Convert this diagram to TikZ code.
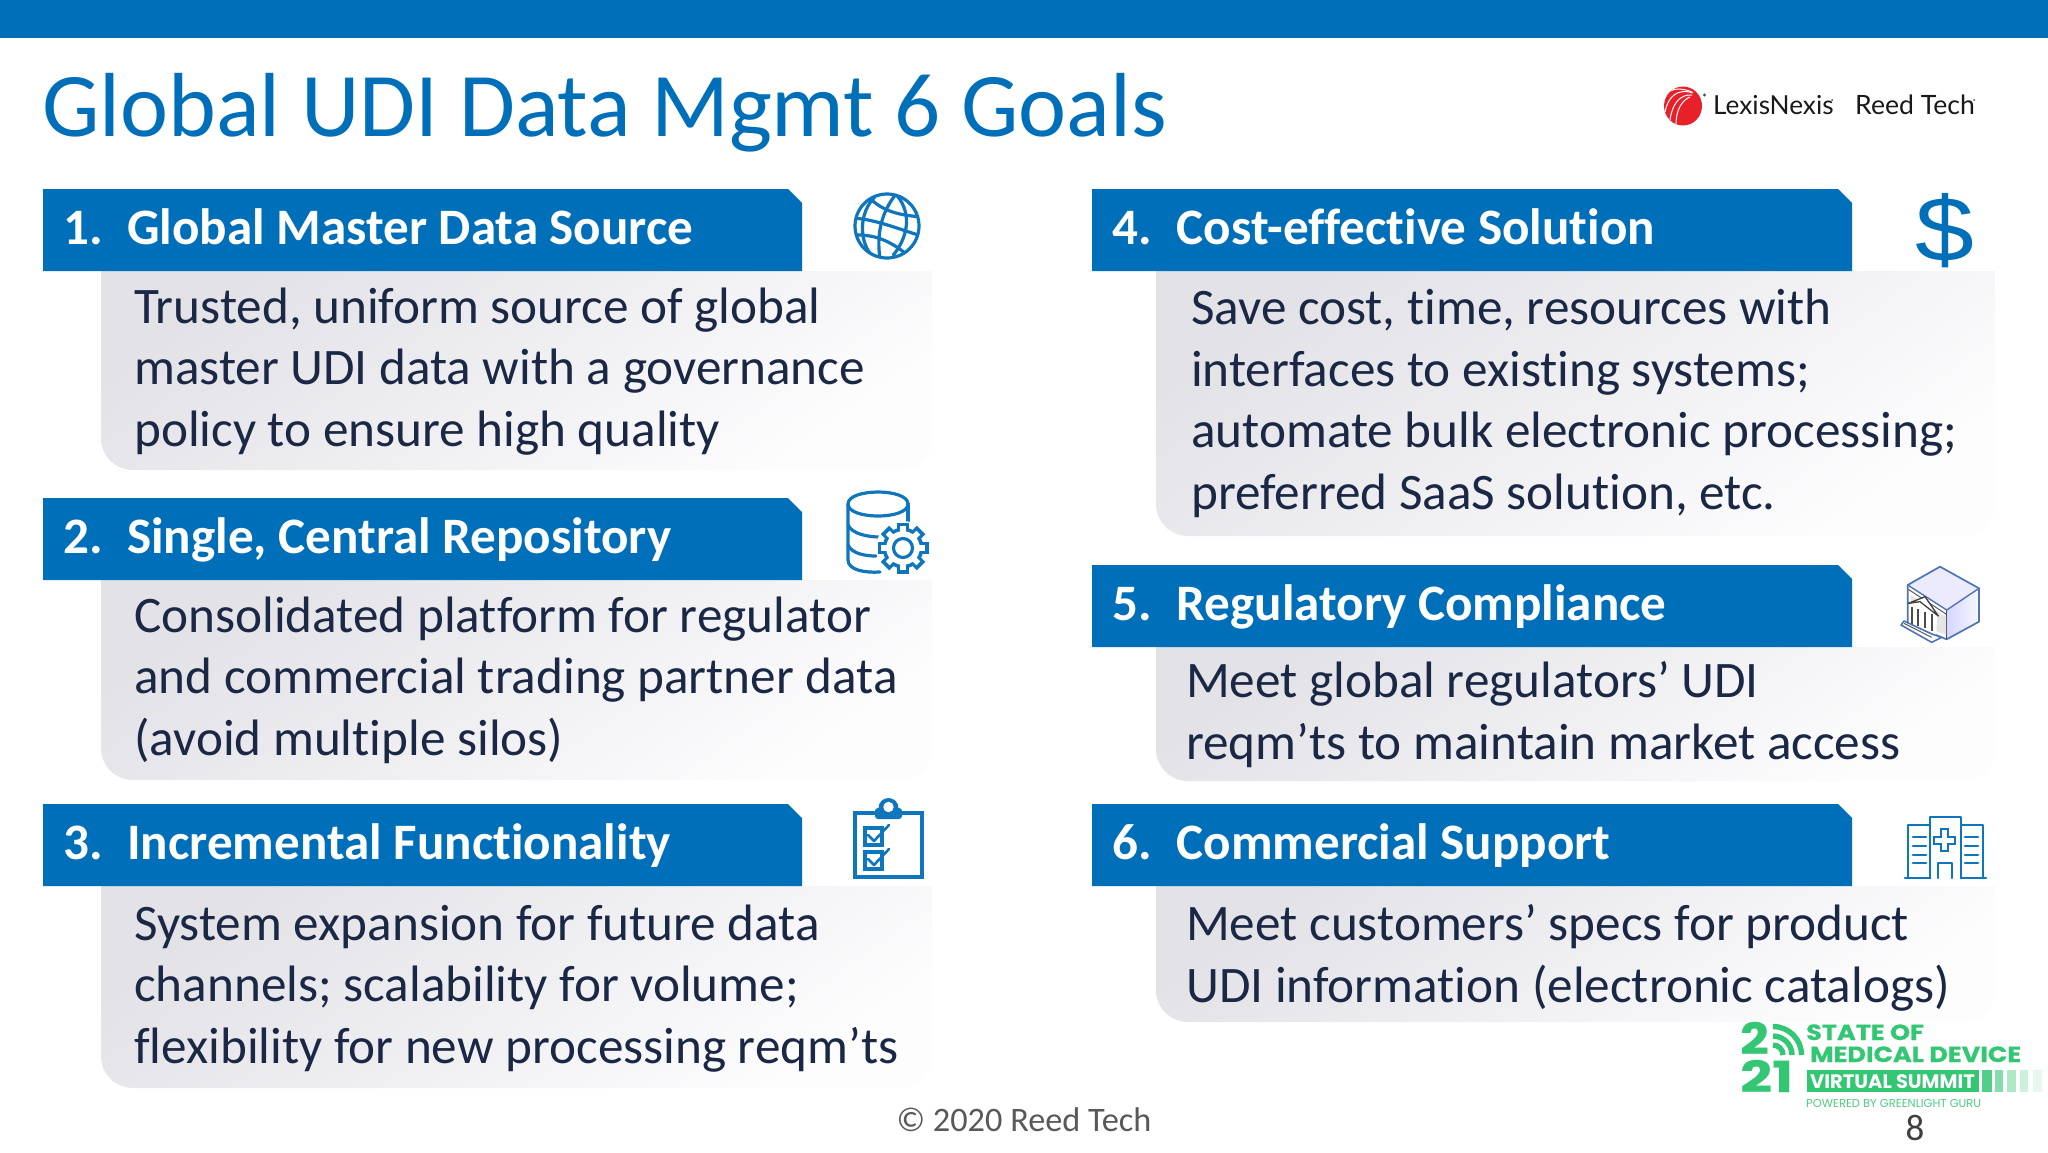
\documentclass[tikz,border=0pt]{standalone}
\usepackage{fontspec}
\setmainfont{Carlito}[Ligatures=CommonOff]
\newfontfamily\popfont{Poppins}
\newfontfamily\pophead{Poppins}[FakeStretch=1.16,FakeBold=0.5]
\newfontfamily\popwide{Poppins}[FakeStretch=1.3,FakeBold=0.5]
\newfontfamily\latofont{Lato}
\newfontfamily\arialfont{Liberation Sans}
\definecolor{rtblue}{HTML}{006FBA}
\definecolor{iconblue}{HTML}{0F75BC}
\definecolor{navy}{HTML}{1A2745}
\definecolor{bodyA}{HTML}{E2E2E7}
\definecolor{bodyB}{HTML}{FDFDFE}
\definecolor{sumgreen}{HTML}{33C774}
\definecolor{cubeline}{HTML}{4F74B5}
\definecolor{lexred}{HTML}{E8202A}
\tikzset{
  headband/.style={fill=rtblue,draw=none},
  bodyband/.style={draw=none,shading=axis,top color=bodyA,bottom color=bodyB,shading angle=35},
  headtext/.style={anchor=base west,inner sep=0pt,text=white,font=\fontsize{51.1}{60}\selectfont\bfseries},
  bodytext/.style={anchor=base west,inner sep=0pt,text=navy,align=left,font=\fontsize{51.2}{61.4}\selectfont},
  iconline/.style={draw=iconblue,line width=3.2pt,line cap=round,line join=round},
  sumtext/.style={anchor=base west,inner sep=0pt,text=sumgreen,font=\pophead\bfseries\fontsize{22}{24}\selectfont},
  zoomed/.style={shift={(#1)},x=.33333pt,y=-.33333pt},
}
\newcommand\hbandshape[3]{\fill[headband] (#1,#3) -- (#2-14,#3) -- (#2,#3+14) -- (#2,#3+82) -- (#1,#3+82) -- cycle;}
\newcommand\bodyshape[4]{\path[bodyband] (#1,#3) -- (#2,#3) -- (#2,#4-32) arc (0:90:32) -- (#1+32,#4) arc (90:180:32) -- cycle;}
\begin{document}
\begin{tikzpicture}[x=1pt,y=-1pt]
\useasboundingbox (0,0) rectangle (2048,1152);
\fill[white] (0,0) rectangle (2048,1152);
\fill[rtblue] (0,0) rectangle (2048,38);
\node[anchor=base west,inner sep=0pt,text=rtblue,font=\fontsize{91}{100}\selectfont] (title) at (42,136) {Global UDI Data Mgmt 6 Goals};
% logo
\begin{scope}
\fill[lexred] (1683,106) ellipse (19 and 19.5);
\clip (1683,106) ellipse (19 and 19.5);
\draw[white,line width=1pt] (1693,93) .. controls (1678,88) and (1668,96) .. (1665,112);
\draw[white,line width=1pt] (1692,95) .. controls (1680,94) and (1672,104) .. (1670,120);
\draw[white,line width=1pt] (1690,97) .. controls (1682,100) and (1676,110) .. (1676,124);
\draw[white,line width=1pt] (1692,92) .. controls (1672,84) and (1662,94) .. (1661,104);
\end{scope}
\fill[black!70] (1704.5,95) circle (1.6);
\node[anchor=base west,inner sep=0pt,text=black!90,font=\latofont\fontsize{26.2}{30}\selectfont] (lexis) at (1713,114) {LexisNexis};
\node[anchor=base west,inner sep=0pt,text=black!90,font=\latofont\fontsize{26.6}{30}\selectfont] (reed) at (1855,114) {Reed Tech};
\fill[black!70] (1832,100) circle (1);
\fill[black!70] (1974,100) circle (1);
% left bands
\bodyshape{101}{932}{271}{470}
\hbandshape{43}{802}{189}
\bodyshape{101}{932}{580}{780}
\hbandshape{43}{802}{498}
\bodyshape{101}{932}{886}{1088}
\hbandshape{43}{802}{804}
% right bands
\bodyshape{1156}{1995}{271}{536}
\hbandshape{1092}{1852}{189}
\bodyshape{1156}{1995}{647}{781}
\hbandshape{1092}{1852}{565}
\bodyshape{1156}{1995}{886}{1022}
\hbandshape{1092}{1852}{804}
% heading text
\node[headtext] (h1) at (63,244.3) {\makebox[64pt][l]{1.}Global Master Data Source};
\node[headtext] (h2) at (63,553.3) {\makebox[64pt][l]{2.}Single, Central Repository};
\node[headtext] (h3) at (63,859.3) {\makebox[64pt][l]{3.}Incremental Functionality};
\node[headtext] (h4) at (1112.5,244.3) {\makebox[64pt][l]{4.}Cost-effective Solution};
\node[headtext] (h5) at (1112.5,620.3) {\makebox[64pt][l]{5.}Regulatory Compliance};
\node[headtext] (h6) at (1112.5,859.3) {\makebox[64pt][l]{6.}Commercial Support};
% body text
\node[bodytext] (b1) at (134,446) {Trusted, uniform source of global\\master UDI data with a governance\\policy to ensure high quality};
\node[bodytext] (b2) at (134,755) {Consolidated platform for regulator\\and commercial trading partner data\\(avoid multiple silos)};
\node[bodytext] (b3) at (134,1063) {System expansion for future data\\channels; scalability for volume;\\flexibility for new processing reqm’ts};
\node[bodytext] (b4) at (1191,509) {Save cost, time, resources with\\interfaces to existing systems;\\automate bulk electronic processing;\\preferred SaaS solution, etc.};
\node[bodytext] (b5) at (1186,759) {Meet global regulators’ UDI\\reqm’ts to maintain market access};
\node[bodytext] (b6) at (1186,1002) {Meet customers’ specs for product\\UDI information (electronic catalogs)};
% globe
\begin{scope}[zoomed={780,170}]
\clip (322,167) circle (95);
\draw[iconline] (350,70) .. controls (300,130) and (290,200) .. (300,265);
\draw[iconline] (285,80) .. controls (235,130) and (240,210) .. (270,250);
\draw[iconline] (352,78) .. controls (395,130) and (385,200) .. (340,255);
\draw[iconline] (270,85) .. controls (310,125) and (360,135) .. (415,140);
\draw[iconline] (228,145) .. controls (290,150) and (350,175) .. (415,195);
\draw[iconline] (232,195) .. controls (290,195) and (330,215) .. (370,245);
\end{scope}
\draw[iconline] (887,226) circle (32);
% database + gear
\draw[iconline] (848,504) .. controls (848,488) and (908,488) .. (908,504) .. controls (908,520) and (848,520) .. (848,504);
\draw[iconline] (908,504) -- (908,522);
\draw[iconline] (848,504) -- (848,560) .. controls (848,570) and (865,573) .. (880,572);
\draw[iconline] (848,525) .. controls (852,534) and (868,537) .. (880,537);
\draw[iconline] (848,545) .. controls (852,554) and (866,556) .. (876,556);
\fill[white] (903,548) circle (27);
\fill[iconblue] (903,548) circle (20.5);
\foreach \a in {0,45,...,315}{\draw[draw=iconblue,line width=12pt] (903,548) -- ++(\a:25.5);}
\fill[white] (903,548) circle (16.8);
\foreach \a in {0,45,...,315}{\draw[draw=white,line width=5.4pt] (903,548) -- ++(\a:21.6);}
\draw[iconline] (903,548) circle (9.5);
% clipboard
\draw[iconline,line cap=butt,line join=miter] (855,813) rectangle (922,877);
\fill[iconblue,rounded corners=3pt] (875,808) rectangle (902,819);
\fill[iconblue] (888.5,808) circle (10);
\fill[white] (888.5,807) circle (5.2);
\draw[iconline,line cap=butt,line join=miter] (865,828) rectangle (882,845);
\draw[iconline,line cap=butt,line join=miter] (865,852) rectangle (882,869);
\draw[iconline,line width=2.6pt] (868,835) -- (874,841) -- (889,825);
\draw[iconline,line width=2.6pt] (868,859) -- (874,865) -- (889,849);
% dollar
\node[inner sep=0pt,text=rtblue,font=\arialfont\fontsize{92}{92}\selectfont,anchor=base] (dollar) at (1945,261) {\scalebox{1.15}[1]{\$}};
% regulator cube
\begin{scope}[zoomed={1840,540}]
\fill[black!8!blue!8!white] (300,80) -- (417,145) -- (320,210) -- (203,135) -- cycle;
\shade[left color=blue!16!white,right color=blue!3!white] (417,145) -- (417,245) -- (320,298) -- (320,210) -- cycle;
\fill[white] (203,135) -- (320,210) -- (320,298) -- (203,250) -- cycle;
\draw[draw=cubeline,line width=1.7pt,line join=round] (300,80) -- (417,145) -- (417,245) -- (320,298) -- (203,250) -- (203,135) -- cycle;
\draw[draw=cubeline,line width=1.4pt] (203,135) -- (320,210) -- (417,145);
\draw[draw=black!70,line width=1.3pt] (320,210) -- (320,298);
\draw[draw=black!65,line width=1pt] (205,148) -- (318,222);
\fill[black!10] (212,165) -- (318,230) -- (318,285) -- (280,270) -- (212,200) -- cycle;
\fill[white] (208,195) -- (255,172) -- (292,228) -- (288,285) -- (208,250) -- cycle;
\foreach \x/\t in {215/202,235/208,255/215,275/222}{\draw[draw=black!70,line width=1.8pt] (\x,\t) -- (\x,\t+50);}
\draw[draw=black!75,line width=1.3pt,line join=round] (205,190) -- (255,170) -- (295,228) -- (240,185) -- cycle;
\draw[draw=cubeline,line width=1.6pt,line join=round,fill=white] (183,255) -- (275,307) -- (305,292) -- (275,282) -- (192,243) -- cycle;
\draw[draw=black!65,line width=1pt] (192,250) -- (275,292);
\end{scope}
% hospital
\draw[iconline,line width=2.7pt] (1930,878) -- (1930,817) -- (1961,817) -- (1961,878);
\draw[iconline,line width=2.7pt] (1930,825) -- (1908,825) -- (1908,878);
\draw[iconline,line width=2.7pt] (1961,825) -- (1983,825) -- (1983,878);
\draw[iconline,line width=2.7pt] (1905,878) -- (1930,878);
\draw[iconline,line width=2.7pt] (1961,878) -- (1986,878);
\draw[iconline,line width=2.4pt] (1938,878) -- (1938,863) -- (1952,863) -- (1952,878);
\draw[iconline,line width=2.2pt,line join=miter] (1941,829) -- (1948,829) -- (1948,837) -- (1955,837) -- (1955,844) -- (1948,844) -- (1948,851) -- (1941,851) -- (1941,844) -- (1934,844) -- (1934,837) -- (1941,837) -- cycle;
\foreach \y in {837,846,855,863}{\draw[iconline,line width=2.6pt] (1913,\y) -- (1926,\y); \draw[iconline,line width=2.6pt] (1965,\y) -- (1978,\y);}
% footer
\node[anchor=base,inner sep=0pt,text=black!65,font=\fontsize{34.3}{38}\selectfont] (copy) at (1024,1131) {© 2020 Reed Tech};
\node[anchor=base,inner sep=0pt,text=black!75,font=\fontsize{37}{40}\selectfont] (pageno) at (1915,1140) {8};
% summit logo
\node[sumtext,font=\pophead\bfseries\fontsize{43}{44}\selectfont] (two) at (1740,1054) {2};
\node[sumtext,font=\popwide\bfseries\fontsize{43}{44}\selectfont] (twoone) at (1740,1092) {21};
\draw[draw=sumgreen,line width=5.4pt] (1773,1026.5) arc (-90:0:28.5);
\draw[draw=sumgreen,line width=5.4pt] (1773,1036) arc (-90:0:19);
\draw[draw=sumgreen,line width=5.4pt] (1773,1045) arc (-90:0:10);
\node[sumtext] (state) at (1806,1040) {STATE OF};
\node[sumtext] (medical) at (1810,1062) {MEDICAL DEVICE};
\fill[sumgreen] (1807,1070) rectangle (1979,1092);
\node[sumtext,text=white,font=\popfont\bfseries\fontsize{19.5}{22}\selectfont] (virtual) at (1810,1088) {VIRTUAL SUMMIT};
\fill[sumgreen,opacity=.85] (1982,1070) rectangle (1992,1092);
\fill[sumgreen,opacity=.6] (1995,1070) rectangle (2003,1092);
\fill[sumgreen,opacity=.4] (2007,1070) rectangle (2016,1092);
\fill[sumgreen,opacity=.25] (2020,1070) rectangle (2028,1092);
\fill[sumgreen,opacity=.12] (2033,1070) rectangle (2042,1092);
\node[sumtext,text=green!45!teal!70!white,font=\popfont\fontsize{11.5}{13}\selectfont] (powered) at (1806,1107) {POWERED BY GREENLIGHT GURU};
\end{tikzpicture}
\end{document}
